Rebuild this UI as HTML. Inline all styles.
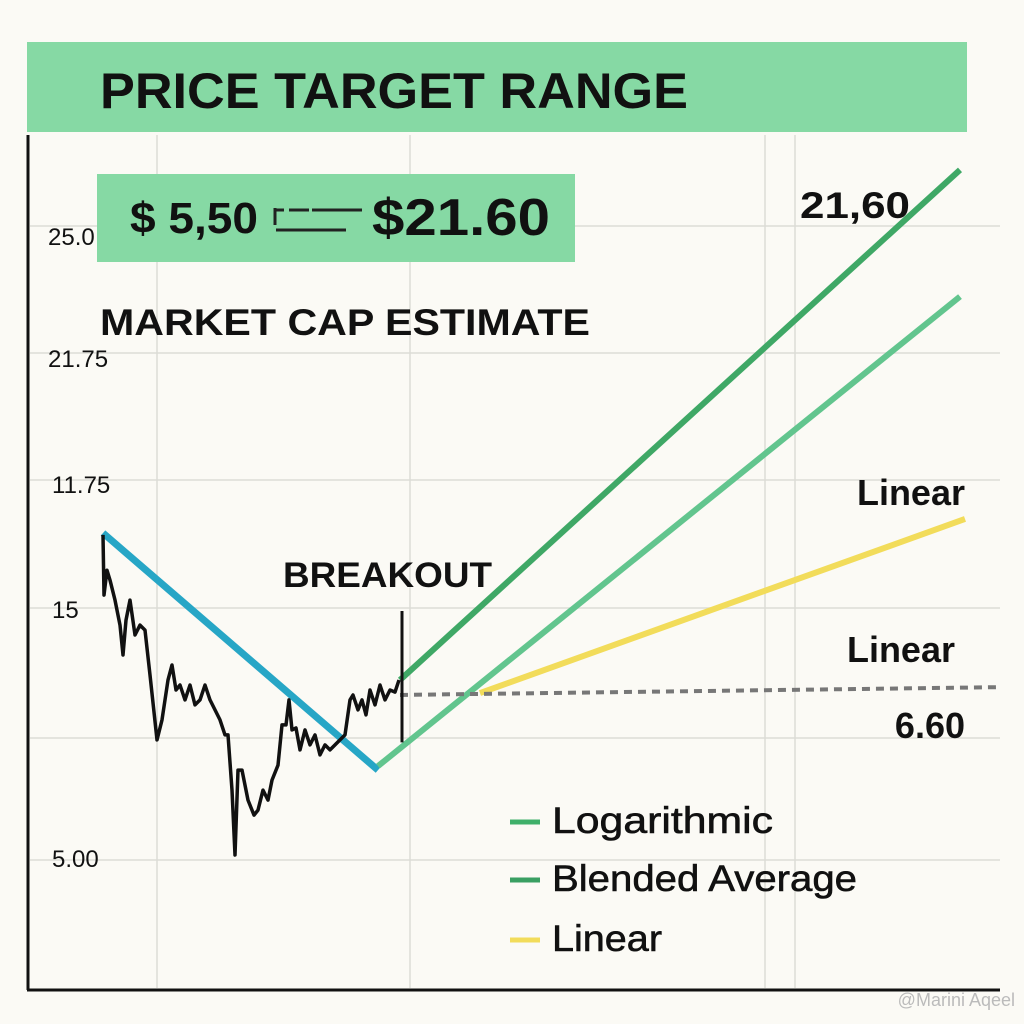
<!DOCTYPE html>
<html><head><meta charset="utf-8"><style>
html,body{margin:0;padding:0;background:#fbfaf5;}
svg{display:block;font-family:"Liberation Sans",sans-serif;}
</style></head><body>
<svg id="chart" width="1024" height="1024" viewBox="0 0 1024 1024">
<rect width="1024" height="1024" fill="#fbfaf5"/>
<g id="grid"></g>
<line x1="28" y1="135" x2="28" y2="990" stroke="#111" stroke-width="3"/>
<line x1="27" y1="990" x2="1000" y2="990" stroke="#111" stroke-width="3"/>
<rect x="27" y="42" width="940" height="90" fill="#86d9a4"/>
<text x="100" y="108" font-size="50" font-weight="bold" fill="#111" textLength="588" lengthAdjust="spacingAndGlyphs">PRICE TARGET RANGE</text>
<rect x="97" y="174" width="478" height="88" fill="#86d9a4"/>
<text x="130" y="233" font-size="44" font-weight="bold" fill="#111" textLength="128" lengthAdjust="spacingAndGlyphs">$ 5,50</text>
<g><line x1="274" y1="210" x2="366" y2="210" stroke="#222" stroke-width="3" stroke-dasharray="10,5,20,3,40,0"/><line x1="276" y1="230" x2="346" y2="230" stroke="#222" stroke-width="3"/><line x1="275" y1="208" x2="275" y2="225" stroke="#222" stroke-width="3"/></g>
<text x="372" y="235" font-size="52" font-weight="bold" fill="#111" textLength="178" lengthAdjust="spacingAndGlyphs">$21.60</text>
<text x="100" y="335" font-size="37" font-weight="bold" fill="#111" textLength="490" lengthAdjust="spacingAndGlyphs">MARKET CAP ESTIMATE</text>
<g id="yticks"></g>
<g id="series"></g>
<text x="283" y="587" font-size="35" font-weight="bold" fill="#111" textLength="209" lengthAdjust="spacingAndGlyphs">BREAKOUT</text>
<text x="800" y="218" font-size="37" font-weight="bold" fill="#111" textLength="110" lengthAdjust="spacingAndGlyphs">21,60</text>
<text x="965" y="505" font-size="36" font-weight="bold" fill="#111" text-anchor="end">Linear</text>
<text x="955" y="662" font-size="36" font-weight="bold" fill="#111" text-anchor="end">Linear</text>
<text x="965" y="738" font-size="36" font-weight="bold" fill="#111" text-anchor="end">6.60</text>
<g>
<g><line x1="510" y1="822" x2="540" y2="822" stroke="#3fb06a" stroke-width="5"/><text x="552" y="833" font-size="37" fill="#111" textLength="221" lengthAdjust="spacingAndGlyphs" stroke="#111" stroke-width="0.6">Logarithmic</text></g>
<g><line x1="510" y1="880" x2="540" y2="880" stroke="#3a9f62" stroke-width="5"/><text x="552" y="891" font-size="37" fill="#111" textLength="305" lengthAdjust="spacingAndGlyphs" stroke="#111" stroke-width="0.6">Blended Average</text></g>
<g><line x1="510" y1="940" x2="540" y2="940" stroke="#f2dc5a" stroke-width="5"/><text x="552" y="951" font-size="37" fill="#111" textLength="110" lengthAdjust="spacingAndGlyphs" stroke="#111" stroke-width="0.6">Linear</text></g>
</g>
<text x="1015" y="1006" font-size="18" fill="#bbb" text-anchor="end">@Marini Aqeel</text>
</svg>
<script>
const tickValues = [25.0, 21.75, 11.75, 15, 5.00];
const tickLabels = ["25.0", "21.75", "11.75", "15", "5.00"];
const tickYOverride = [236, 358, 484, 609, 858];
const gridH = [226, 353, 480, 608, 738, 860];
const gridV = [157, 410, 765, 795];
const priceT = [0,1,4,7,12,17,20,23,27,32,37,42,47,54,59,65,69,73,77,82,87,92,97,102,107,112,117,122,125,129,132,135,139,145,151,155,160,165,169,175,179,183,186,189,193,197,202,207,212,217,222,227,232,237,242,247,250,255,259,263,267,272,277,282,287,292,296];
const priceV = [15.42,13.49,14.29,13.97,13.33,12.53,11.57,12.69,13.33,12.21,12.53,12.37,10.93,8.85,9.49,10.77,11.25,10.45,10.61,10.13,10.61,9.97,10.13,10.61,10.13,9.81,9.49,9.01,9.01,7.24,5.16,7.88,7.88,6.92,6.44,6.6,7.24,6.92,7.56,8.04,9.33,9.33,10.13,9.17,9.23,8.53,9.17,8.69,9.01,8.37,8.69,8.53,8.69,8.85,9.01,10.13,10.29,9.81,10.13,9.65,10.45,9.97,10.61,10.13,10.45,10.38,10.77];
const trendNames = ["downtrend","logarithmic","blended-average","linear","flat-baseline"];
const trendT0 = [0, 297, 275, 377, 297];
const trendV0 = [15.48, 10.77, 8.01, 10.35, 10.29];
const trendT1 = [275, 857, 857, 862, 897];
const trendV1 = [7.88, 27.12, 23.06, 15.93, 10.54];
const trendColor = ["#27a6c6","#3fa866","#62c58e","#f2dc5a","#777"];
const trendWidth = [7,6,6,6,4];
const breakoutT = 299, breakoutLo = 8.77, breakoutHi = 12.98;

const ns="http://www.w3.org/2000/svg";
const X = t => 103 + t;
const Y = v => 860 - (v - 5) * 31.2;
const g = document.getElementById('grid');
gridH.forEach(y=>{const l=document.createElementNS(ns,'line');


l.setAttribute('x1',30);l.setAttribute('x2',1000);l.setAttribute('y1',y);l.setAttribute('y2',y);l.setAttribute('stroke','#dcdcd6');l.setAttribute('stroke-width',1.5);g.appendChild(l);});
gridV.forEach(x=>{const l=document.createElementNS(ns,'line');


l.setAttribute('x1',x);l.setAttribute('x2',x);l.setAttribute('y1',135);l.setAttribute('y2',988);l.setAttribute('stroke','#dcdcd6');l.setAttribute('stroke-width',1.5);g.appendChild(l);});
const yt=document.getElementById('yticks');
tickLabels.forEach((s,i)=>{const t=document.createElementNS(ns,'text');


t.setAttribute('x', i<2?48:52);t.setAttribute('y',tickYOverride[i]+9);t.setAttribute('font-size',24);t.setAttribute('fill','#111');t.textContent=s;yt.appendChild(t);});
const sg=document.getElementById('series');
trendNames.forEach((n,i)=>{const l=document.createElementNS(ns,'line');


l.setAttribute('x1',X(trendT0[i]));l.setAttribute('y1',Y(trendV0[i]));l.setAttribute('x2',X(trendT1[i]));l.setAttribute('y2',Y(trendV1[i]));
l.setAttribute('stroke',trendColor[i]);l.setAttribute('stroke-width',trendWidth[i]);
if(n==='flat-baseline')l.setAttribute('stroke-dasharray','8,6');
sg.appendChild(l);});
const p=document.createElementNS(ns,'path');


p.setAttribute('d',priceT.map((t,i)=>(i?'L':'M')+X(t)+','+Y(priceV[i]).toFixed(1)).join(' '));
p.setAttribute('fill','none');p.setAttribute('stroke','#111');p.setAttribute('stroke-width',3.5);p.setAttribute('stroke-linejoin','round');
sg.appendChild(p);
const b=document.createElementNS(ns,'line');


b.setAttribute('x1',X(breakoutT));b.setAttribute('x2',X(breakoutT));b.setAttribute('y1',Y(breakoutHi));b.setAttribute('y2',Y(breakoutLo));b.setAttribute('stroke','#111');b.setAttribute('stroke-width',3);
sg.appendChild(b);
</script>
</body></html>
